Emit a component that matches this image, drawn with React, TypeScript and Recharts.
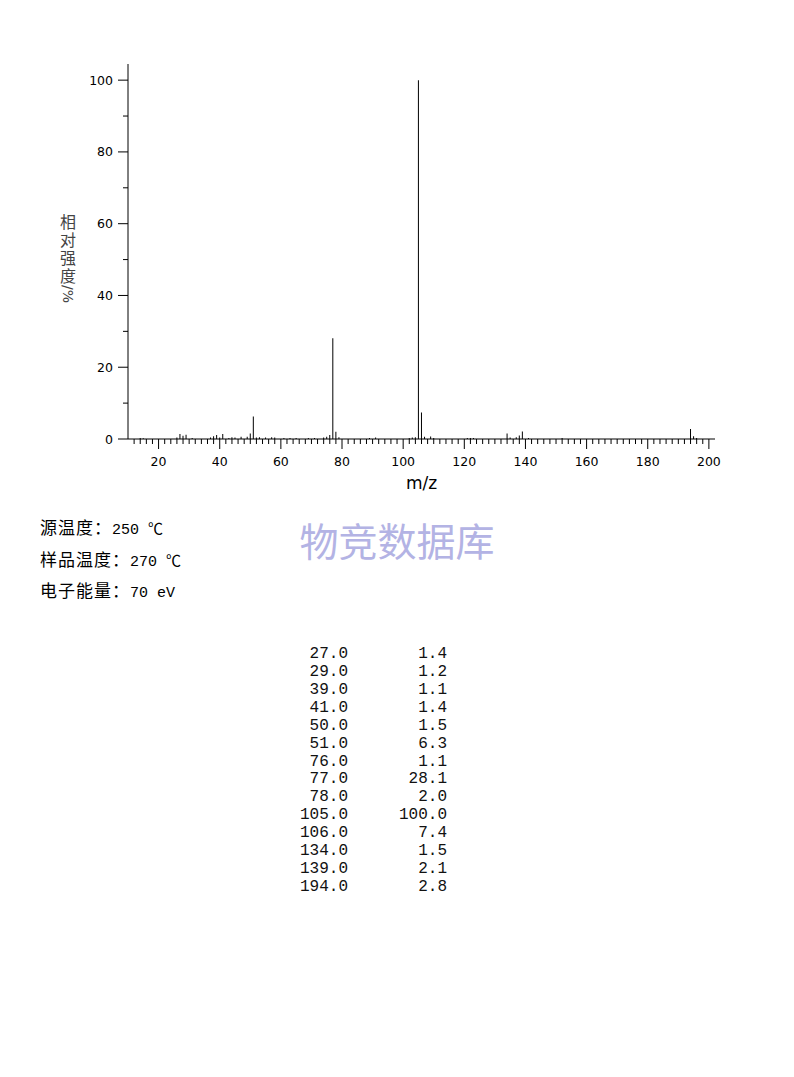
import { BarChart, Bar, XAxis, YAxis } from 'recharts'

// 质谱主峰（表格中列出的）
const peakMz = [27, 29, 39, 41, 50, 51, 76, 77, 78, 105, 106, 134, 139, 194]
const peakIntensity = [1.4, 1.2, 1.1, 1.4, 1.5, 6.3, 1.1, 28.1, 2.0, 100.0, 7.4, 1.5, 2.1, 2.8]

// 图中可见但表格未列出的小峰（目测估计）
const minorMz = [14, 15, 26, 28, 31, 37, 38, 40, 43, 44, 45, 47, 49, 52, 53, 55, 57, 58, 61, 63, 65, 69, 71, 74, 75, 79, 89, 91, 102, 103, 104, 107, 109, 110, 121, 122, 123, 135, 137, 138, 141, 152, 195, 196]
const minorIntensity = [0.3, 0.2, 0.4, 0.9, 0.3, 0.4, 0.8, 0.4, 0.3, 0.5, 0.4, 0.6, 0.6, 0.4, 0.5, 0.4, 0.5, 0.4, 0.3, 0.3, 0.3, 0.3, 0.3, 0.4, 0.6, 0.5, 0.3, 0.4, 0.3, 0.4, 0.5, 0.6, 0.7, 0.3, 0.3, 0.3, 0.3, 0.4, 0.5, 1.0, 0.3, 0.3, 0.8, 0.3]

const xTicks = Array.from({ length: 95 }, (_, i) => 12 + i * 2)
const yTicks = [0, 10, 20, 30, 40, 50, 60, 70, 80, 90, 100]

const conditionLabels = ['源温度', '样品温度', '电子能量']
const conditionValues = ['250 ℃', '270 ℃', '70 eV']

const tickFont = '"DejaVu Sans", Verdana, sans-serif'
const cjkFont = '"Noto Sans CJK SC", sans-serif'

function XTick(props: any) {
  const { x, y, payload } = props
  const major = payload.value % 20 === 0
  const len = major ? 10 : 5
  return (
    <g>
      <line x1={x} y1={y} x2={x} y2={y + len} stroke="#000" />
      {major && (
        <text x={x} y={y + 22} textAnchor="middle" dominantBaseline="central" fontSize={12.5} fontFamily={tickFont} fill="#000">
          {payload.value}
        </text>
      )}
    </g>
  )
}

function YTick(props: any) {
  const { x, y, payload } = props
  const major = payload.value % 20 === 0
  const len = major ? 10 : 5
  return (
    <g>
      <line x1={x} y1={y} x2={x - len} y2={y} stroke="#000" />
      {major && (
        <text x={x - 15} y={y} textAnchor="end" dominantBaseline="central" fontSize={12.5} fontFamily={tickFont} fill="#000">
          {payload.value}
        </text>
      )}
    </g>
  )
}

function YLabel(p: any) {
  const cx = p.viewBox.x
  return (
    <g fill="#444" fontFamily={cjkFont}>
      <text x={cx} y={250} textAnchor="middle" fontSize={16} letterSpacing={2} style={{ writingMode: 'vertical-rl' }}>
        相对强度
      </text>
      <text x={cx} y={294} transform={`rotate(90 ${cx} 294)`} textAnchor="middle" dominantBaseline="central" fontSize={14} fontFamily={tickFont}>
        /%
      </text>
    </g>
  )
}

export default function App() {
  const data = [
    ...peakMz.map((mz, i) => ({ mz, intensity: peakIntensity[i] })),
    ...minorMz.map((mz, i) => ({ mz, intensity: minorIntensity[i] })),
  ].sort((a, b) => a.mz - b.mz)

  return (
    <div style={{ position: 'relative', margin: '-8px 0 0 -8px', width: 786, height: 1060, background: '#fff' }}>
      <div style={{ position: 'absolute', left: 0, top: 0 }}>
        <BarChart width={786} height={500} data={data} margin={{ top: 64, right: 71, bottom: 1, left: 68 }}>
          <XAxis
            dataKey="mz"
            type="number"
            domain={[10, 202]}
            ticks={xTicks}
            interval={0}
            tickLine={false}
            tickSize={0}
            tickMargin={0}
            tick={XTick}
            axisLine={{ stroke: '#000' }}
            height={60}
            allowDataOverflow
            label={{ value: 'm/z', position: 'insideTop', offset: 38, fontSize: 17, fontFamily: tickFont, fill: '#000' }}
          />
          <XAxis xAxisId="top" orientation="top" type="number" domain={[10, 202]} tick={false} tickLine={false} axisLine={{ stroke: '#000' }} height={0} />
          <YAxis
            type="number"
            domain={[0, 104.5]}
            ticks={yTicks}
            interval={0}
            tickLine={false}
            tickSize={0}
            tickMargin={0}
            tick={YTick}
            axisLine={{ stroke: '#000' }}
            width={60}
            allowDataOverflow
            label={{ content: YLabel }}
          />
          <YAxis yAxisId="right" orientation="right" type="number" domain={[0, 104.5]} tick={false} tickLine={false} axisLine={{ stroke: '#000' }} width={0} />
          <Bar dataKey="intensity" fill="#000" barSize={1} isAnimationActive={false} />
        </BarChart>
      </div>

      <div
        style={{
          position: 'absolute',
          left: 397,
          top: 539,
          transform: 'translate(-50%, -50%)',
          fontSize: 39,
          color: '#b3b3e4',
          fontFamily: cjkFont,
          whiteSpace: 'nowrap',
        }}
      >
        物竞数据库
      </div>

      {conditionLabels.map((c, i) => (
        <div
          key={c}
          style={{
            position: 'absolute',
            left: 40,
            top: 529 + i * 31.5,
            transform: 'translateY(-50%)',
            color: '#000',
            whiteSpace: 'pre',
            lineHeight: '20px',
          }}
        >
          <span style={{ fontFamily: cjkFont, fontSize: 17, letterSpacing: 1 }}>{c}：</span>
          <span style={{ fontFamily: '"Liberation Mono", "Noto Sans CJK SC", monospace', fontSize: 15 }}>{conditionValues[i]}</span>
        </div>
      ))}

      {peakMz.map((mz, i) => (
        <div key={mz} style={{ position: 'absolute', left: 0, top: 645 + i * 17.92, height: 18, lineHeight: '18px', fontFamily: '"Liberation Mono", monospace', fontSize: 16, color: '#111', whiteSpace: 'pre' }}>
          <span style={{ position: 'absolute', left: 268, width: 80, textAlign: 'right' }}>{mz.toFixed(1)}</span>
          <span style={{ position: 'absolute', left: 367, width: 80, textAlign: 'right' }}>{peakIntensity[i].toFixed(1)}</span>
        </div>
      ))}
    </div>
  )
}
